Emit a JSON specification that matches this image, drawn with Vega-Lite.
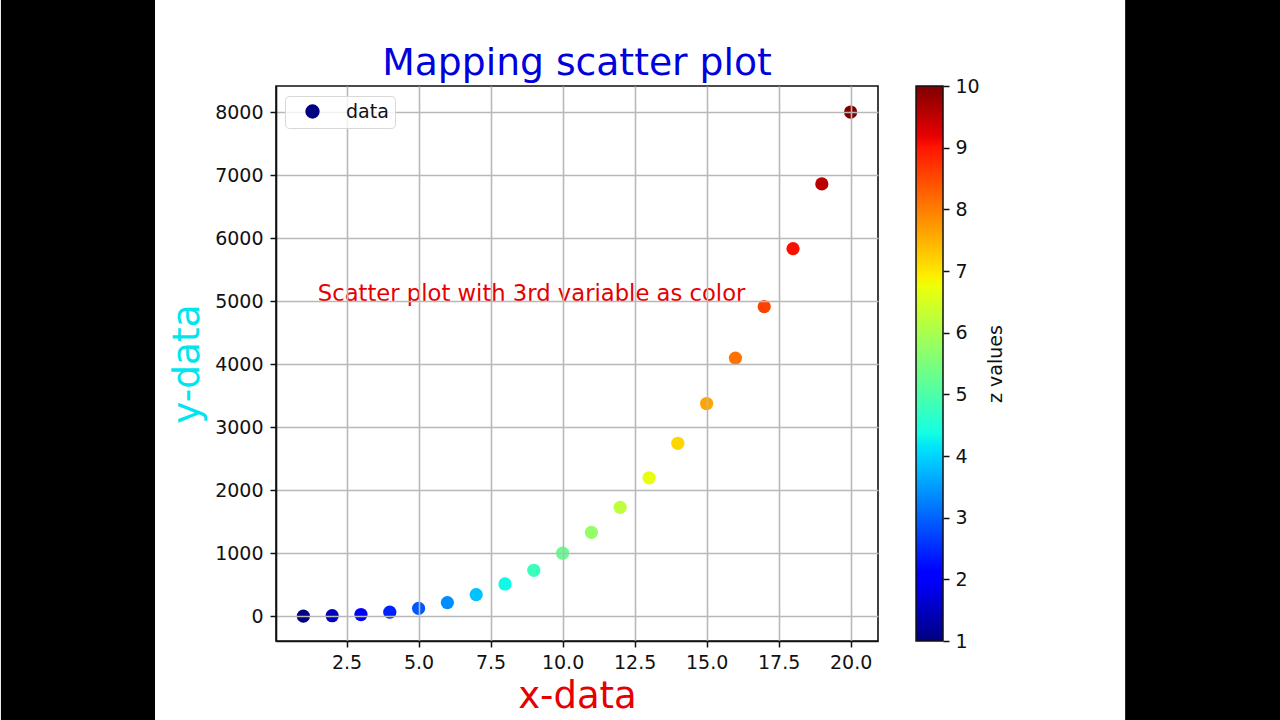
{
  "$schema": "https://vega.github.io/schema/vega-lite/v6.json",
  "width": 602,
  "height": 555,
  "autosize": {"type": "none"},
  "padding": {"left": 276, "top": 86, "right": 402, "bottom": 79},
  "background": "white",
  "config": {
    "font": "DejaVu Sans",
    "view": {"stroke": "#111111", "strokeWidth": 1.6}
  },
  "title": {
    "text": "Mapping scatter plot",
    "fontSize": 37.7,
    "fontWeight": "normal",
    "color": "#0000dd",
    "anchor": "middle",
    "offset": 4,
    "dy": 87
  },
  "layer": [
    {
      "layer": [
        {
          "data": {"values": [
            {"x0": -9.5, "x1": -4.15, "y0": -1647, "y1": 9778},
            {"x0": 29.53, "x1": 35, "y0": -1647, "y1": 9778}
          ]},
          "mark": {"type": "rect", "color": "black", "clip": false},
          "encoding": {
            "x": {"field": "x0", "type": "quantitative"},
            "x2": {"field": "x1"},
            "y": {"field": "y0", "type": "quantitative"},
            "y2": {"field": "y1"}
          }
        },
        {
          "data": {"values": [
            {"x": 1, "y": 1, "z": 1, "series": "data"},
            {"x": 2, "y": 8, "z": 1.47, "series": "data"},
            {"x": 3, "y": 27, "z": 1.95, "series": "data"},
            {"x": 4, "y": 64, "z": 2.42, "series": "data"},
            {"x": 5, "y": 125, "z": 2.89, "series": "data"},
            {"x": 6, "y": 216, "z": 3.37, "series": "data"},
            {"x": 7, "y": 343, "z": 3.84, "series": "data"},
            {"x": 8, "y": 512, "z": 4.32, "series": "data"},
            {"x": 9, "y": 729, "z": 4.79, "series": "data"},
            {"x": 10, "y": 1000, "z": 5.26, "series": "data"},
            {"x": 11, "y": 1331, "z": 5.74, "series": "data"},
            {"x": 12, "y": 1728, "z": 6.21, "series": "data"},
            {"x": 13, "y": 2197, "z": 6.68, "series": "data"},
            {"x": 14, "y": 2744, "z": 7.16, "series": "data"},
            {"x": 15, "y": 3375, "z": 7.63, "series": "data"},
            {"x": 16, "y": 4096, "z": 8.11, "series": "data"},
            {"x": 17, "y": 4913, "z": 8.58, "series": "data"},
            {"x": 18, "y": 5832, "z": 9.05, "series": "data"},
            {"x": 19, "y": 6859, "z": 9.53, "series": "data"},
            {"x": 20, "y": 8000, "z": 10, "series": "data"}
          ]},
          "mark": {"type": "point", "filled": true, "size": 175, "opacity": 1},
          "encoding": {
            "x": {
              "field": "x",
              "type": "quantitative",
              "scale": {"domain": [0.05, 20.95], "nice": false, "zero": false},
              "axis": {
                "title": "x-data",
                "titleFontSize": 37,
                "titleFontWeight": "normal",
                "titleColor": "#e60000",
                "titlePadding": 6,
                "values": [2.5, 5, 7.5, 10, 12.5, 15, 17.5, 20],
                "format": ".1f",
                "labelFontSize": 19,
                "labelColor": "#111111",
                "labelPadding": 6,
                "labelFlush": false,
                "tickColor": "#111111",
                "tickSize": 6,
                "tickWidth": 1.5,
                "domainColor": "#111111",
                "domainWidth": 1.6,
                "grid": true,
                "gridColor": "#b8b8b8",
                "gridWidth": 1.6,
                "zindex": 1
              }
            },
            "y": {
              "field": "y",
              "type": "quantitative",
              "scale": {"domain": [-393, 8413], "nice": false, "zero": false},
              "axis": {
                "title": "y-data",
                "titleFontSize": 37.5,
                "titleFontWeight": "normal",
                "titleColor": "#00e5ee",
                "titlePadding": 8,
                "values": [0, 1000, 2000, 3000, 4000, 5000, 6000, 7000, 8000],
                "format": "d",
                "labelFontSize": 19,
                "labelColor": "#111111",
                "labelPadding": 7,
                "tickColor": "#111111",
                "tickSize": 6,
                "tickWidth": 1.5,
                "domainColor": "#111111",
                "domainWidth": 1.6,
                "grid": true,
                "gridColor": "#b8b8b8",
                "gridWidth": 1.6,
                "zindex": 1
              }
            },
            "color": {
              "field": "z",
              "type": "quantitative",
              "scale": {
                "domain": [1, 1.99, 2.125, 4.06, 4.15, 4.375, 6.76, 6.85, 6.94, 9.01, 9.19, 10],
                "range": ["#000080", "#0000ff", "#0000ff", "#00dbff", "#00e5f8", "#14ffe2", "#eeff08", "#f7f600", "#ffec00", "#ff1400", "#e80000", "#800000"],
                "interpolate": "rgb"
              },
              "legend": null
            },
            "shape": {
              "field": "series",
              "type": "nominal",
              "scale": {"domain": ["data"], "range": ["circle"]},
              "legend": {
                "title": null,
                "orient": "none",
                "legendX": 9,
                "legendY": 10,
                "fillColor": "rgba(255,255,255,0.8)",
                "strokeColor": "#d8d8d8",
                "cornerRadius": 4,
                "padding": 6,
                "symbolSize": 165,
                "symbolFillColor": "#000080",
                "symbolStrokeColor": "#000080",
                "symbolType": "circle",
                "symbolOffset": 12,
                "labelFontSize": 19,
                "labelColor": "#111111",
                "labelOffset": 24,
                "zindex": 2
              }
            }
          }
        },
        {
          "data": {"values": [
            {"x": 1.5, "y": 5000, "label": "Scatter plot with 3rd variable as color"}
          ]},
          "mark": {"type": "text", "align": "left", "baseline": "alphabetic", "fontSize": 22.7, "color": "#e60000"},
          "encoding": {
            "x": {"field": "x", "type": "quantitative"},
            "y": {"field": "y", "type": "quantitative"},
            "text": {"field": "label"}
          }
        }
      ]
    },
    {
      "data": {"values": [
        {"x0": 22.27, "x1": 23.207, "z0": 1, "z1": 10}
      ]},
      "mark": {
        "type": "rect",
        "clip": false,
        "stroke": "#111111",
        "strokeWidth": 1.5,
        "color": {
          "gradient": "linear",
          "x1": 0, "y1": 1, "x2": 0, "y2": 0,
          "stops": [
            {"offset": 0, "color": "#000080"},
            {"offset": 0.11, "color": "#0000ff"},
            {"offset": 0.125, "color": "#0000ff"},
            {"offset": 0.34, "color": "#00dbff"},
            {"offset": 0.35, "color": "#00e5f8"},
            {"offset": 0.375, "color": "#14ffe2"},
            {"offset": 0.64, "color": "#eeff08"},
            {"offset": 0.65, "color": "#f7f600"},
            {"offset": 0.66, "color": "#ffec00"},
            {"offset": 0.89, "color": "#ff1400"},
            {"offset": 0.91, "color": "#e80000"},
            {"offset": 1, "color": "#800000"}
          ]
        }
      },
      "encoding": {
        "x": {"field": "x0", "type": "quantitative"},
        "x2": {"field": "x1"},
        "y": {
          "field": "z0",
          "type": "quantitative",
          "scale": {"domain": [1, 10], "nice": false, "zero": false},
          "axis": {
            "orient": "right",
            "offset": 65,
            "title": "z values",
            "titleFontSize": 19,
            "titleFontWeight": "normal",
            "titleColor": "#111111",
            "titleAngle": 270,
            "titlePadding": 26,
            "values": [1, 2, 3, 4, 5, 6, 7, 8, 9, 10],
            "format": "d",
            "labelFontSize": 19,
            "labelColor": "#111111",
            "labelPadding": 6,
            "tickColor": "#111111",
            "tickSize": 6,
            "tickWidth": 1.5,
            "domain": false,
            "grid": false
          }
        },
        "y2": {"field": "z1"}
      }
    }
  ],
  "resolve": {"scale": {"y": "independent"}, "axis": {"y": "independent"}}
}
